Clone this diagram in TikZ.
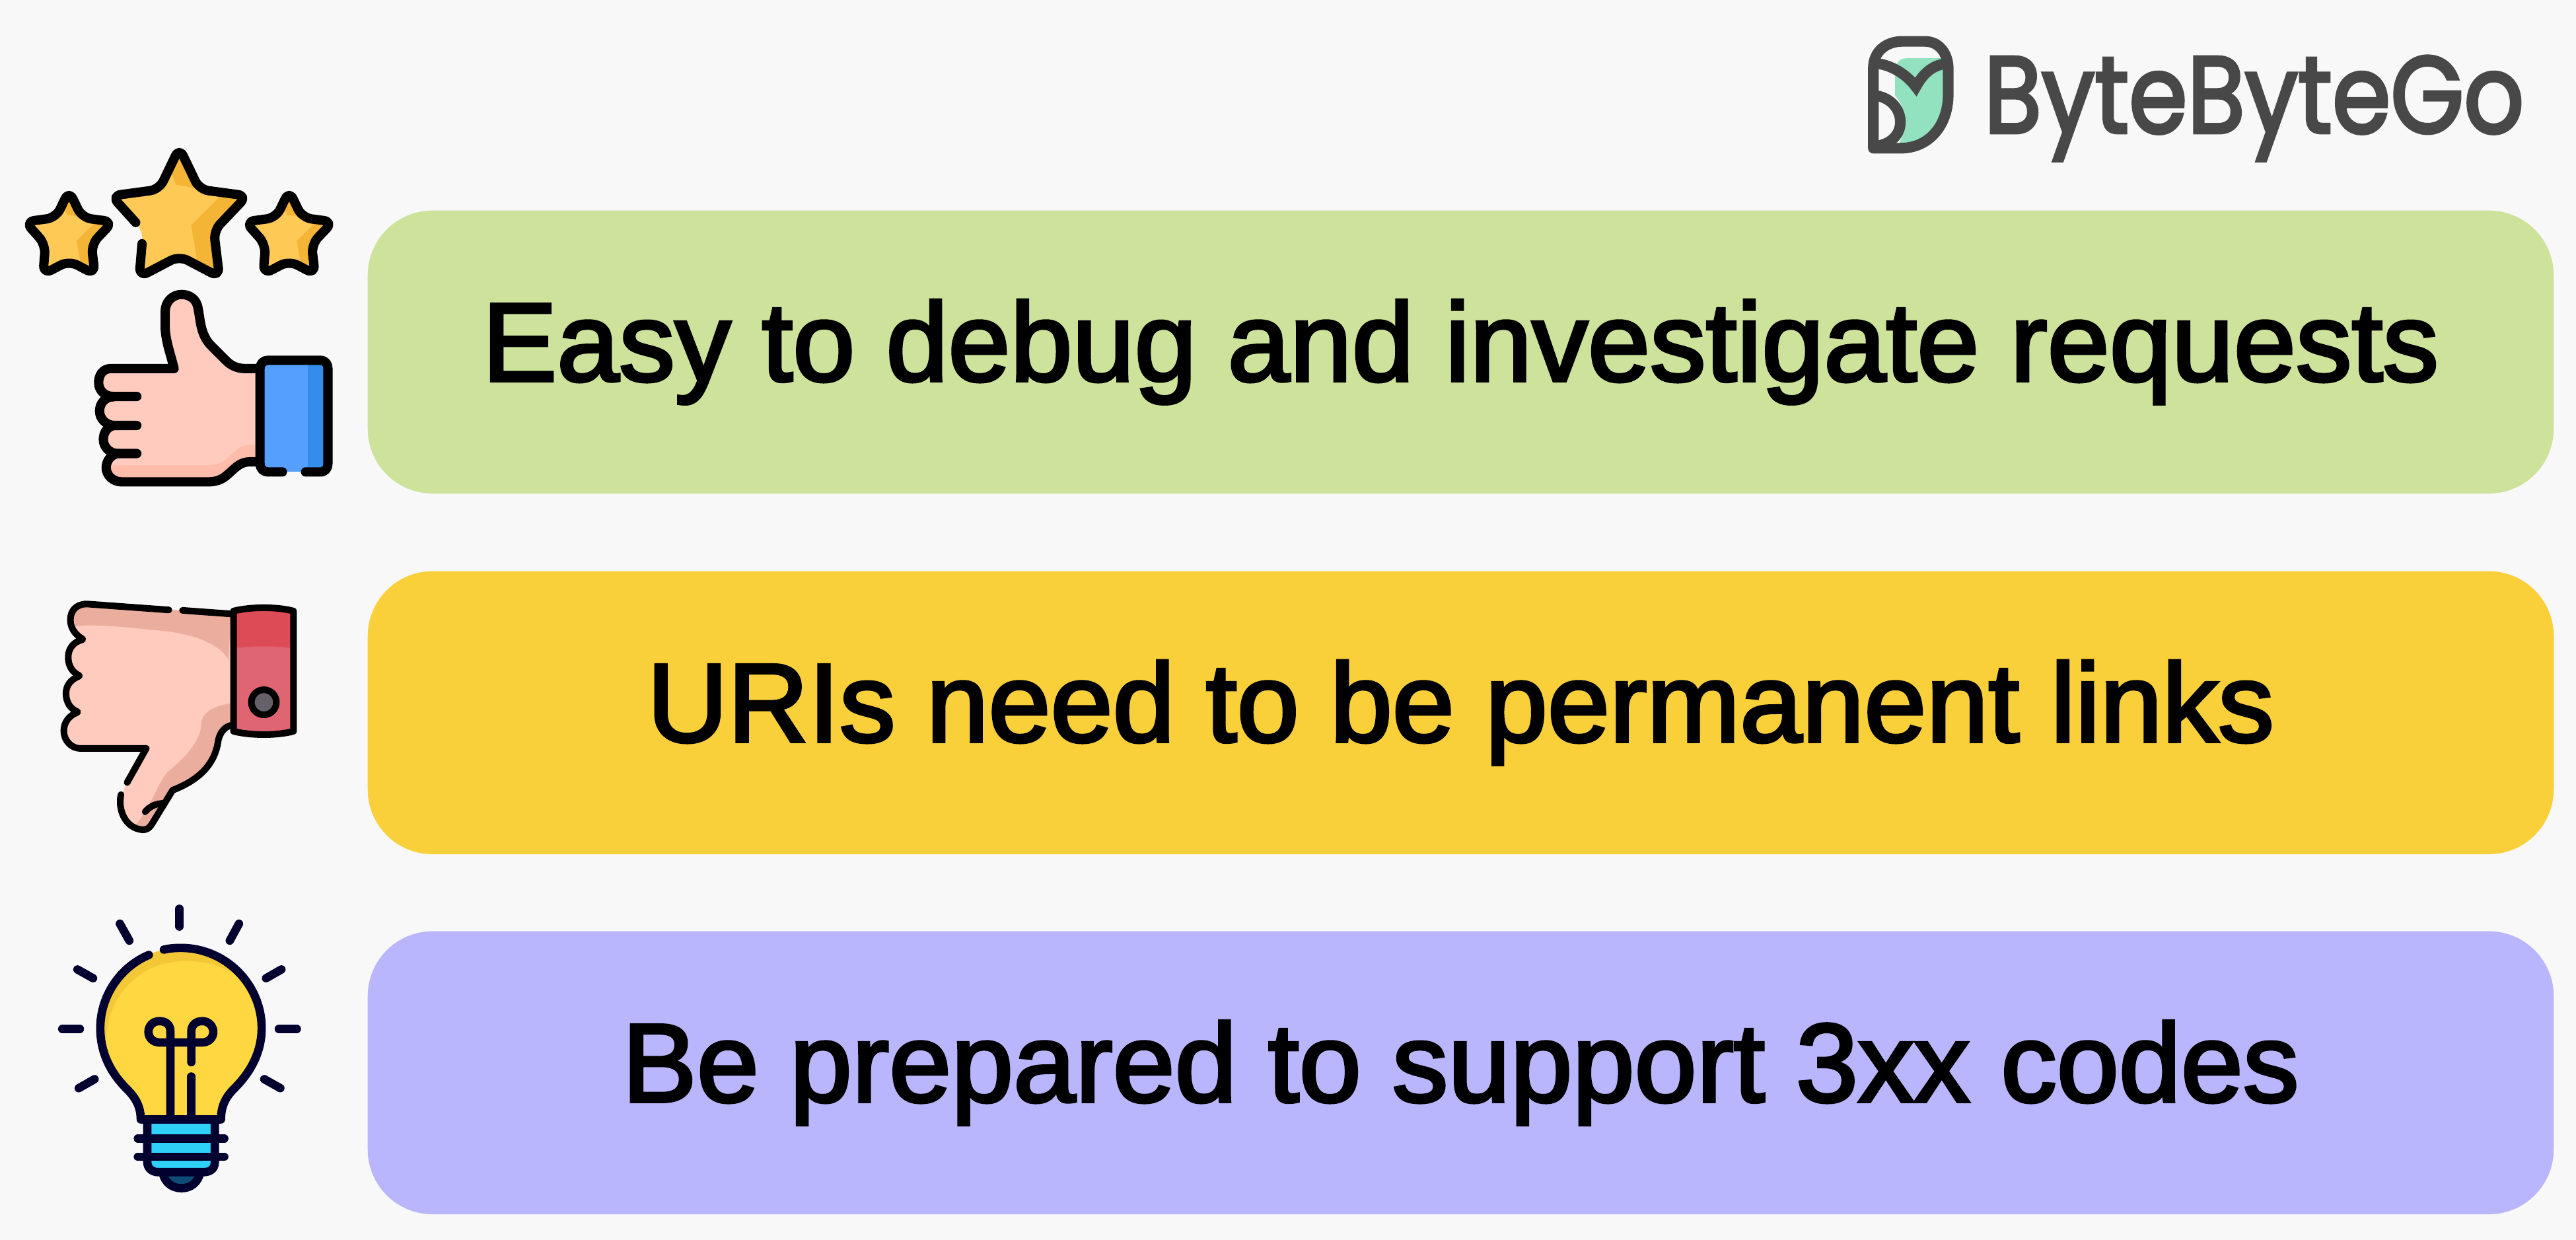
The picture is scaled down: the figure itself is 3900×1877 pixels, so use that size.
\documentclass[tikz,border=0pt]{standalone}
\usepackage{fontspec}
\usepackage{graphicx}
\setmainfont{Liberation Sans}[FakeBold=2.7]
\newfontfamily\logofont{Poppins}[FakeBold=3]
\usetikzlibrary{positioning}

\definecolor{fundal}{HTML}{F8F8F8}
\definecolor{verde}{HTML}{CDE29A}
\definecolor{galben}{HTML}{F9CF3A}
\definecolor{mov}{HTML}{B9B6FD}
\definecolor{piele}{HTML}{FFCBBE}
\definecolor{pieleumbra}{HTML}{FFBCAA}
\definecolor{pieledown}{HTML}{EBAD9E}
\definecolor{stea}{HTML}{FFC956}
\definecolor{steaumbra}{HTML}{F4B537}
\definecolor{albastru}{HTML}{549FFF}
\definecolor{albastruumbra}{HTML}{348DEC}
\definecolor{rosu}{HTML}{DD4B57}
\definecolor{rosudeschis}{HTML}{E06573}
\definecolor{nasture}{HTML}{666068}
\definecolor{bec}{HTML}{FFD740}
\definecolor{becumbra}{HTML}{F4C737}
\definecolor{soclu}{HTML}{2ED0F8}
\definecolor{socluumbra}{HTML}{0E4C78}
\definecolor{bleumarin}{HTML}{01002F}
\definecolor{logogri}{HTML}{484848}
\definecolor{logomenta}{HTML}{93E2BF}

\tikzset{
    textbox/.style={rounded corners=27.9pt, minimum width=941.1pt, minimum height=121.8pt,
        inner sep=0pt, font=\fontsize{48.1}{48.1}\selectfont, text=black},
    contur/.style={line width=#1, line cap=round, line join=round},
    contur/.default=4pt
}

\newcommand{\stealine}{(760,66) -- (845,243) -- (1047,270) -- (906,418) -- (930,614) -- (760,525)
    -- (590,614) -- (606,418) -- (473,270) -- (675,243) -- cycle}
\newcommand{\steaumbre}{
    \fill [steaumbra] (722,160) -- (745,222) -- (840,240) -- (780,90) -- cycle;
    \fill [steaumbra] (1060,270) -- (930,275) -- (810,395) -- (835,540) -- (950,630) -- cycle;
}

\begin{document}
\begin{tikzpicture}[x=0.01cm, y=-0.01cm]
    \useasboundingbox (0,0) rectangle (3900,1877);
    \fill [fundal] (0,0) rectangle (3900,1877);

    % casetele cu text
    \node (ease) [textbox, fill=verde, anchor=north west] at (556,318) {Easy to debug and investigate requests};
    \node (links) [textbox, fill=galben, anchor=north west] at (556,864) {URIs need to be permanent links};
    \node (codes) [textbox, fill=mov, anchor=north west] at (556,1409) {Be prepared to support 3xx codes};

    % stele
    \begin{scope}[shift={(0,200)}, x=0.00357cm, y=-0.00357cm]
        \begin{scope}
            \clip [rounded corners=4pt] \stealine;
            \fill [stea] (400,50) rectangle (1100,650);
            \steaumbre
        \end{scope}
        \draw [contur=4pt, black, rounded corners=4pt] (575,383) -- (473,270) -- (675,243) -- (760,66) -- (845,243) -- (1047,270) -- (906,418) -- (930,614) -- (760,525) -- (590,614) -- (602,473);
        \foreach \dx in {-200,733} {
            \begin{scope}[shift={(\dx,205)}, scale=0.648]
                \clip [rounded corners=4pt] \stealine;
                \fill [stea] (400,50) rectangle (1100,650);
                \steaumbre
            \end{scope}
            \begin{scope}[shift={(\dx,205)}, scale=0.648]
                \draw [contur=4pt, black, rounded corners=4pt] \stealine;
            \end{scope}
        }

        % deget sus
        \fill [piele] (1100,1002) -- (1040,1002) .. controls (1000,1002) and (975,985) .. (960,970) -- (895,905)
            .. controls (850,860) and (850,800) .. (840,750) .. controls (835,705) and (800,688) .. (770,688)
            .. controls (730,688) and (700,720) .. (700,760) -- (700,820) .. controls (700,880) and (720,930) .. (735,1002)
            -- (470,1002) .. controls (435,1002) and (418,1030) .. (418,1062) .. controls (418,1090) and (435,1110) .. (455,1122)
            .. controls (435,1135) and (422,1155) .. (422,1182) .. controls (422,1210) and (440,1232) .. (465,1243)
            .. controls (450,1255) and (438,1275) .. (438,1302) .. controls (438,1330) and (455,1350) .. (480,1362)
            .. controls (465,1375) and (450,1400) .. (450,1422) .. controls (450,1455) and (480,1482) .. (515,1482)
            -- (880,1482) .. controls (930,1482) and (950,1465) .. (975,1442) .. controls (1000,1420) and (1020,1397) .. (1060,1397)
            -- (1100,1397) -- cycle;
        \fill [pieleumbra] (1100,1325) -- (1060,1325) .. controls (1015,1325) and (995,1355) .. (965,1382) .. controls (945,1400) and (920,1412) .. (880,1412)
            -- (480,1412) -- (450,1425) .. controls (450,1455) and (480,1482) .. (515,1482)
            -- (880,1482) .. controls (930,1482) and (950,1465) .. (975,1442) .. controls (1000,1420) and (1020,1397) .. (1060,1397)
            -- (1100,1397) -- cycle;
        \fill [albastru] (1100,967) rectangle (1390,1438);
        \fill [albastruumbra] (1305,985) rectangle (1375,1420);
        \draw [contur=4pt, black] (1100,1002) -- (1040,1002) .. controls (1000,1002) and (975,985) .. (960,970) -- (895,905)
            .. controls (850,860) and (850,800) .. (840,750) .. controls (835,705) and (800,688) .. (770,688)
            .. controls (730,688) and (700,720) .. (700,760) -- (700,820) .. controls (700,880) and (720,930) .. (738,1002)
            -- (470,1002) .. controls (435,1002) and (418,1030) .. (418,1062) .. controls (418,1095) and (445,1120) .. (478,1120) -- (580,1120);
        \draw [contur=4pt, black] (478,1122) .. controls (445,1122) and (422,1150) .. (422,1182) .. controls (422,1215) and (450,1243) .. (485,1243) -- (580,1243);
        \draw [contur=4pt, black] (488,1243) .. controls (460,1243) and (438,1270) .. (438,1302) .. controls (438,1335) and (465,1362) .. (500,1362) -- (580,1362);
        \draw [contur=4pt, black] (505,1362) .. controls (475,1362) and (450,1390) .. (450,1422) .. controls (450,1455) and (480,1482) .. (515,1482)
            -- (880,1482) .. controls (930,1482) and (950,1465) .. (975,1442) .. controls (1000,1420) and (1020,1397) .. (1060,1397) -- (1100,1397);
        \draw [contur=4pt, black] (1197,1440) -- (1135,1440) .. controls (1115,1440) and (1102,1425) .. (1102,1405) -- (1102,1002)
            .. controls (1102,982) and (1115,967) .. (1135,967) -- (1358,967) .. controls (1378,967) and (1390,982) .. (1390,1002)
            -- (1390,1405) .. controls (1390,1425) and (1378,1440) .. (1358,1440) -- (1295,1440);
    \end{scope}

    % deget jos
    \begin{scope}[shift={(60,880)}, x=0.00333cm, y=-0.00333cm]
        \fill [piele] (870,148) -- (215,103) .. controls (165,103) and (140,135) .. (140,175) .. controls (140,215) and (165,245) .. (195,262)
            .. controls (155,275) and (130,305) .. (130,345) .. controls (130,385) and (150,415) .. (180,428)
            .. controls (145,445) and (120,470) .. (120,510) .. controls (120,550) and (140,580) .. (172,593)
            .. controls (135,610) and (110,640) .. (110,680) .. controls (110,725) and (145,760) .. (185,760)
            -- (485,760) -- (385,940) .. controls (355,1010) and (370,1125) .. (470,1130) .. controls (490,1130) and (500,1120) .. (510,1105)
            -- (605,950) .. controls (720,905) and (790,840) .. (810,740) .. controls (815,695) and (835,665) .. (870,655) -- cycle;
        \fill [pieledown] (870,148) -- (215,103) .. controls (185,103) and (165,120) .. (155,150) -- (160,205)
            .. controls (250,190) and (450,215) .. (560,225) .. controls (700,240) and (810,280) .. (860,355) -- cycle;
        \fill [pieledown] (870,555) .. controls (800,565) and (735,595) .. (735,650) .. controls (735,730) and (650,810) .. (585,865)
            .. controls (540,910) and (510,1020) .. (440,1105) -- (470,1130) .. controls (490,1130) and (500,1120) .. (510,1105)
            -- (605,950) .. controls (720,905) and (790,840) .. (810,740) .. controls (815,695) and (835,665) .. (870,655) -- cycle;
        \fill [rosudeschis] (882,135) .. controls (960,115) and (1080,115) .. (1155,135) -- (1155,682) .. controls (1080,702) and (960,702) .. (882,682) -- cycle;
        \fill [rosu] (882,135) .. controls (960,115) and (1080,115) .. (1155,135) -- (1155,305) .. controls (1080,292) and (960,292) .. (882,305) -- cycle;
        \draw [contur=2.85pt, black] (588,130) -- (215,103) .. controls (165,103) and (140,135) .. (140,175) .. controls (140,215) and (165,245) .. (195,262);
        \draw [contur=2.85pt, black] (195,265) .. controls (155,275) and (130,305) .. (130,345) .. controls (130,385) and (150,415) .. (180,428);
        \draw [contur=2.85pt, black] (180,431) .. controls (145,445) and (120,470) .. (120,510) .. controls (120,550) and (140,580) .. (172,593);
        \draw [contur=2.85pt, black] (172,596) .. controls (135,610) and (110,640) .. (110,680) .. controls (110,725) and (145,760) .. (185,760)
            -- (485,760) -- (398,915);
        \draw [contur=2.85pt, black] (370,970) .. controls (355,1040) and (390,1125) .. (470,1130) .. controls (490,1130) and (500,1120) .. (510,1105)
            -- (605,950) .. controls (720,905) and (790,840) .. (810,740) .. controls (815,695) and (835,665) .. (870,655);
        \draw [contur=2.85pt, black] (650,132) -- (870,148);
        \draw [contur=2.85pt, black] (480,1048) .. controls (500,1025) and (525,1012) .. (558,1010);
        \draw [contur=2.85pt, black, fill=none] (882,135) .. controls (960,115) and (1080,115) .. (1155,135) -- (1155,682) .. controls (1080,702) and (960,702) .. (882,682) -- cycle;
        \draw [contur=2.85pt, black, fill=nasture] (1020,550) circle [radius=57];
    \end{scope}

    % bec
    \begin{scope}[shift={(60,1340)}, x=0.00333cm, y=-0.00333cm]
        \fill [bec] (276,650) .. controls (276,450) and (440,285) .. (643,285) .. controls (845,285) and (1010,450) .. (1010,650)
            .. controls (1010,770) and (950,860) .. (885,925) .. controls (850,960) and (825,1000) .. (825,1065) -- (460,1065)
            .. controls (460,1000) and (430,960) .. (395,925) .. controls (330,860) and (276,770) .. (276,650) -- cycle;
        \fill [becumbra] (276,650) .. controls (276,450) and (440,285) .. (643,285) .. controls (780,285) and (890,360) .. (925,440)
            .. controls (860,370) and (760,345) .. (660,345) .. controls (460,345) and (305,500) .. (305,700) -- cycle;
        \fill [soclu] (490,1075) -- (490,1260) .. controls (490,1290) and (515,1305) .. (540,1305) -- (745,1305) .. controls (775,1305) and (797,1290) .. (797,1260) -- (797,1075) -- cycle;
        \fill [socluumbra] (560,1310) .. controls (570,1350) and (600,1378) .. (645,1378) .. controls (690,1378) and (720,1350) .. (730,1310) -- cycle;
        \draw [contur=3.6pt, bleumarin] (565,293) .. controls (590,287) and (615,285) .. (643,285) .. controls (845,285) and (1010,450) .. (1010,650)
            .. controls (1010,770) and (950,860) .. (885,925) .. controls (850,960) and (825,1000) .. (825,1065) -- (460,1065)
            .. controls (460,1000) and (430,960) .. (395,925) .. controls (330,860) and (276,770) .. (276,650)
            .. controls (276,500) and (370,370) .. (497,317);
        \draw [contur=3.6pt, bleumarin] (595,1060) -- (595,665) .. controls (595,635) and (575,618) .. (545,618) .. controls (515,618) and (495,640) .. (495,667)
            .. controls (495,695) and (517,715) .. (545,715) -- (740,715) .. controls (768,715) and (790,695) .. (790,667)
            .. controls (790,640) and (768,618) .. (740,618) .. controls (712,618) and (690,635) .. (690,665) -- (690,805);
        \draw [contur=3.6pt, bleumarin] (690,870) -- (690,1060);
        \draw [contur=3.6pt, bleumarin] (490,1075) -- (490,1260) .. controls (490,1290) and (515,1305) .. (540,1305) -- (745,1305) .. controls (775,1305) and (797,1290) .. (797,1260) -- (797,1075);
        \draw [contur=3.6pt, bleumarin] (447,1152) -- (840,1152);
        \draw [contur=3.6pt, bleumarin] (447,1235) -- (840,1235);
        \draw [contur=3.6pt, bleumarin] (560,1310) .. controls (570,1350) and (600,1378) .. (645,1378) .. controls (690,1378) and (720,1350) .. (730,1310);
        \foreach \xa/\ya/\xb/\yb in {636/107/636/188, 365/175/408/252, 907/175/865/252, 172/383/243/423, 1100/383/1030/423,
            103/654/183/654, 1088/654/1170/654, 178/923/250/882, 1095/923/1022/882}
            \draw [contur=3.6pt, bleumarin] (\xa,\ya) -- (\xb,\yb);
    \end{scope}

    % logo
    \begin{scope}[shift={(2800,30)}, x=0.0067cm, y=-0.00333cm]
        \fill [logomenta] (103,240) .. controls (105,200) and (110,175) .. (130,175) -- (208,175) -- (222,340)
            .. controls (222,480) and (180,570) .. (110,570) .. controls (130,500) and (130,400) .. (103,345) -- cycle;
        \draw [logogri, line width=4.6pt, line join=round] (54,584) -- (54,220) .. controls (54,140) and (85,98) .. (120,98) -- (170,98)
            .. controls (205,98) and (223,160) .. (223,220) -- (223,340) .. controls (223,480) and (180,584) .. (115,584) -- cycle;
        \draw [logogri, line width=4.6pt] (60,198) .. controls (95,205) and (130,250) .. (150,305) .. controls (165,250) and (185,205) .. (222,198);
        \draw [logogri, line width=4.6pt] (60,345) .. controls (95,355) and (115,410) .. (115,465) .. controls (115,520) and (95,565) .. (60,575);
    \end{scope}
    \node (logotext) [anchor=base west, inner sep=0pt, text=logogri] at (3003,201)
        {\resizebox{232.5pt}{33pt}{\logofont ByteByteGo}};
\end{tikzpicture}
\end{document}
